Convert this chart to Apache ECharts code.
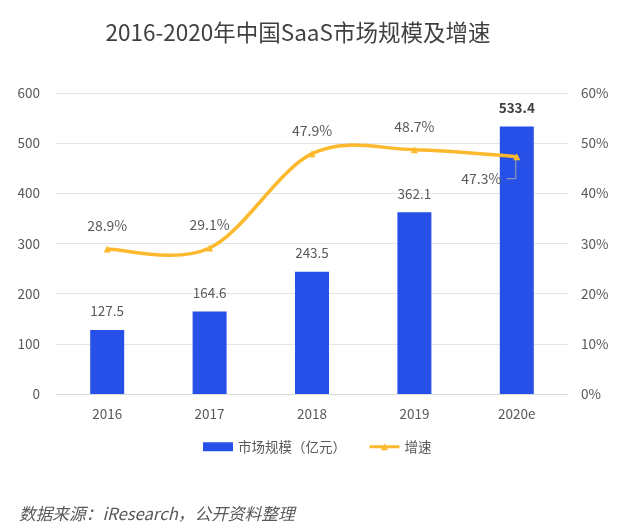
<!DOCTYPE html>
<html lang="en">
<head>
<meta charset="UTF-8">
<script src="https://cdn.jsdelivr.net/npm/echarts@6/dist/echarts.min.js"></script>
<title>SaaS</title>
<style>
html,body{margin:0;padding:0;background:#fff}
#main{width:640px;height:532px}
</style>
</head>
<body>
<div id="main"></div>
<script>
var categories = ['2016', '2017', '2018', '2019', '2020e'];
var marketSize = [127.5, 164.6, 243.5, 362.1, 533.4];
var growthRate = [28.9, 29.1, 47.9, 48.7, 47.3];
var leftTicks = [0, 100, 200, 300, 400, 500, 600];

var cjk = '"Noto Sans CJK SC", "Noto Sans", sans-serif';
var lineColor = '#fdb92e';

// Excel style smooth line, it overshoots between points, echarts smooth does not
function renderCurve(params, api) {
    if (params.dataIndex !== 0) return null;
    var pts = growthRate.map(function (v, i) {
        return api.coord([i, v]);
    });
    var path = 'M' + pts[0][0] + ' ' + pts[0][1];
    for (var i = 0; i < pts.length - 1; i++) {
        var p0 = pts[Math.max(i - 1, 0)];
        var p1 = pts[i];
        var p2 = pts[i + 1];
        var p3 = pts[Math.min(i + 2, pts.length - 1)];
        path += ' C' + (p1[0] + (p2[0] - p0[0]) / 6) + ' ' + (p1[1] + (p2[1] - p0[1]) / 6) +
            ' ' + (p2[0] - (p3[0] - p1[0]) / 6) + ' ' + (p2[1] - (p3[1] - p1[1]) / 6) +
            ' ' + p2[0] + ' ' + p2[1];
    }
    var last = pts[pts.length - 1];
    return {
        type: 'group',
        children: [{
            type: 'path',
            shape: {pathData: path},
            style: {fill: 'none', stroke: lineColor, lineWidth: 3.5}
        }, {
            // leader line of the last label
            type: 'polyline',
            shape: {points: [[last[0] - 10, last[1] + 22], [last[0] - 1, last[1] + 22], [last[0] - 1, last[1] + 3]]},
            style: {fill: 'none', stroke: '#a6a6a6', lineWidth: 1}
        }]
    };
}

var myChart = echarts.init(document.getElementById('main'));
var option = {
    animation: false,
    backgroundColor: '#fff',
    textStyle: {fontFamily: cjk},
    title: [{
        text: '2016-2020年中国SaaS市场规模及增速',
        left: 293, top: 16, textAlign: 'center',
        textStyle: {fontSize: 22.5, fontWeight: 'normal', color: '#404040', fontFamily: cjk}
    }, {
        text: '数据来源：iResearch，公开资料整理',
        left: 14, top: 500,
        textStyle: {fontSize: 16.7, fontWeight: 'normal', fontStyle: 'italic', color: '#595959', fontFamily: cjk}
    }],
    legend: {
        top: 435, left: 198,
        itemGap: 22, itemWidth: 30, itemHeight: 9,
        textStyle: {fontSize: 13.5, color: '#595959'},
        data: [
            {name: '市场规模（亿元）', icon: 'rect'},
            {name: '增速', lineStyle: {color: lineColor, width: 3, opacity: 1}}
        ]
    },
    grid: {left: 56, right: 72, top: 93, bottom: 138},
    xAxis: {
        type: 'category',
        data: categories,
        axisTick: {show: false},
        axisLine: {lineStyle: {color: '#d9d9d9'}},
        axisLabel: {fontSize: 13.5, color: '#595959', margin: 13}
    },
    yAxis: [{
        type: 'value', min: 0, max: leftTicks[leftTicks.length - 1], interval: 100,
        axisLine: {show: false}, axisTick: {show: false},
        axisLabel: {fontSize: 13.5, color: '#595959', margin: 16},
        splitLine: {lineStyle: {color: '#e4e4e4'}}
    }, {
        type: 'value', min: 0, max: 60, interval: 10,
        axisLine: {show: false}, axisTick: {show: false},
        axisLabel: {fontSize: 13.5, color: '#595959', margin: 13, formatter: '{value}%'},
        splitLine: {show: false}
    }],
    series: [{
        name: '市场规模（亿元）',
        type: 'bar',
        barWidth: 34,
        itemStyle: {color: '#2650e8'},
        label: {show: true, position: 'top', distance: 12, fontSize: 13.5, color: '#595959'},
        data: marketSize.map(function (v, i) {
            if (i === marketSize.length - 1) {
                return {value: v, label: {fontWeight: 'bold', color: '#404040'}};
            }
            return v;
        })
    }, {
        name: '增速曲线',
        type: 'custom',
        yAxisIndex: 1,
        renderItem: renderCurve,
        data: growthRate,
        silent: true,
        z: 3
    }, {
        name: '增速',
        type: 'line',
        yAxisIndex: 1,
        symbol: 'triangle',
        symbolSize: 7,
        lineStyle: {color: lineColor, width: 3, opacity: 0},
        itemStyle: {color: lineColor},
        z: 4,
        label: {
            show: true, position: 'top', distance: 13, fontSize: 14, color: '#595959',
            formatter: '{c}%'
        },
        data: growthRate.map(function (v, i) {
            if (i === growthRate.length - 1) {
                return {value: v, label: {position: 'left', distance: 12, offset: [0, 22]}};
            }
            return v;
        })
    }]
};
myChart.setOption(option);
</script>
</body>
</html>
